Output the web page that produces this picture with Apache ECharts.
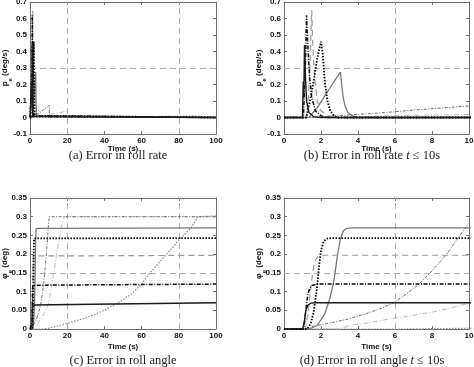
<!DOCTYPE html>
<html><head><meta charset="utf-8">
<script src="https://cdn.jsdelivr.net/npm/echarts@6/dist/echarts.min.js"></script>
<style>html,body{margin:0;padding:0;background:#fff}#c{width:474px;height:367px}</style>
</head><body><div id="c"></div>
<script>
// ---- Data: roll-rate error p_e (deg/s) vs time (s) ----
const rateC1 = [[0,0],[1.0,0],[1.04,0.22],[1.07,0.12],[1.11,0.44],[1.16,0.25],[1.22,0.1],[1.35,0.03],[1.6,0.005],[2,0],[100,0]];
const rateC2 = [[0,0],[1.05,0],[1.15,0.3],[1.22,0.62],[1.28,0.45],[1.38,0.25],[1.5,0.12],[1.7,0.04],[2.0,0.01],[2.4,0],[100,0]];
const rateC3 = [[0,0],[1.2,0],[1.4,0.1],[1.6,0.22],[1.8,0.36],[2.0,0.46],[2.1,0.38],[2.2,0.22],[2.35,0.1],[2.5,0.04],[2.7,0.01],[2.9,0],[100,0]];
const rateC4 = [[0,0],[1.25,0],[1.4,0.3],[1.5,0.65],[1.55,0.45],[1.65,0.25],[1.8,0.1],[2.0,0.04],[2.4,0.01],[2.8,0],[100,0]];
const rateC5 = [[0,0],[1.35,0],[1.8,0.06],[2.2,0.13],[2.6,0.2],[3.05,0.275],[3.12,0.2],[3.2,0.12],[3.3,0.07],[3.45,0.03],[3.7,0.01],[4,0],[100,0]];
const rateC6 = [[0,0],[1.6,0],[2.5,0.008],[3.5,0.015],[5,0.026],[6,0.035],[7,0.045],[8,0.053],[9,0.062],[10,0.07],[10.4,0.073],[10.45,0],[100,0]];
const rateC7 = [[0,0],[3.5,0],[5,0.008],[6,0.012],[8,0.015],[10,0.018],[12,0.022],[14,0.026],[16,0.03],[18,0.034],[19.4,0.037],[19.45,0],[100,0]];
const rateC8 = [[0,0],[6.5,0],[20,0.001],[40,0.003],[55,0.005],[70,0.006],[85,0.008],[90,0.008],[90.3,0],[100,0]];
// ---- Data: roll-angle error phi_e (deg) vs time (s) ----
const angC1 = [[0,0],[1.0,0],[1.05,0.008],[1.1,0.02],[1.15,0.04],[1.2,0.053],[1.3,0.064],[1.45,0.069],[1.7,0.07],[100,0.07]];
const angC2 = [[0,0],[1.05,0],[1.12,0.02],[1.2,0.06],[1.3,0.095],[1.4,0.11],[1.55,0.117],[1.8,0.12],[100,0.12]];
const angC3 = [[0,0],[1.25,0],[1.45,0.015],[1.6,0.045],[1.76,0.1],[1.9,0.17],[2.0,0.21],[2.15,0.235],[2.35,0.242],[2.6,0.243],[100,0.243]];
const angC4 = [[0,0],[1.15,0],[1.3,0.04],[1.4,0.09],[1.5,0.13],[1.6,0.165],[1.7,0.185],[1.85,0.195],[2.1,0.197],[100,0.197]];
const angC5 = [[0,0],[1.4,0],[1.8,0.01],[2.2,0.04],[2.5,0.085],[2.7,0.13],[2.9,0.2],[3.05,0.24],[3.2,0.262],[3.4,0.269],[3.7,0.27],[100,0.27]];
const angC6 = [[0,0],[1.3,0],[1.6,0.008],[2.5,0.016],[3.5,0.027],[4.5,0.042],[5.3,0.056],[5.9,0.07],[6.6,0.093],[7.3,0.12],[7.9,0.15],[8.8,0.2],[9.4,0.243],[10,0.283],[10.4,0.3],[100,0.3]];
const angC7 = [[0,0],[3,0],[3.6,0.01],[4.5,0.016],[5.5,0.025],[6.8,0.035],[8,0.045],[9,0.056],[10,0.069],[11.5,0.11],[13,0.16],[15,0.22],[17,0.275],[18.5,0.3],[100,0.3]];
const angC8 = [[0,0],[6.5,0],[10,0.002],[20,0.015],[30,0.03],[40,0.05],[48,0.072],[55,0.095],[60,0.12],[64.5,0.15],[73.5,0.2],[81,0.243],[86.6,0.27],[90.3,0.3],[100,0.302]];

const rateSets = [rateC1, rateC2, rateC3, rateC4, rateC5, rateC6, rateC7, rateC8];
const angSets  = [angC1, angC2, angC3, angC4, angC5, angC6, angC7, angC8];

const captions = ['(a) Error in roll rate', '(b) Error in roll rate {i|t} ≤ 10s', '(c) Error in roll angle', '(d) Error in roll angle {i|t} ≤ 10s'];

// ---- Styles ----
const styles = [
  {color:'#1a1a1a', type:'solid', width:1.4},
  {color:'#111', type:[4,1.5,1,1.5], width:1.5},
  {color:'#000', type:[1.5,1.5], width:1.8},
  {color:'#9a9a9a', type:[6,4], width:1.2},
  {color:'#777', type:'solid', width:1.3},
  {color:'#6e6e6e', type:[3,1.5,1,1.5], width:1},
  {color:'#bcbcbc', type:[5,2,1,2], width:1},
  {color:'#8a8a8a', type:[1.5,1.5], width:1.2}
];

const panels = [
  {left:30, top:2, width:186, height:132, xmax:100, xint:20, ymin:-0.1, ymax:0.7, yint:0.1, sets:rateSets, vgrid:[20,80], hgrid:[0.3], ngap:11, yname:'{a|p}{s|e}{a| (deg/s)}'},
  {left:284, top:2, width:185, height:132, xmax:10, xint:2, ymin:-0.1, ymax:0.7, yint:0.1, sets:rateSets, vgrid:[6], hgrid:[0.3], ngap:11, yname:'{a|p}{s|e}{a| (deg/s)}'},
  {left:30, top:198, width:186, height:131, xmax:100, xint:20, ymin:0, ymax:0.35, yint:0.05, sets:angSets, vgrid:[20,80], hgrid:[0.15], ngap:14, yname:'{a|φ}{s|e}{a| (deg)}'},
  {left:284, top:198, width:185, height:131, xmax:10, xint:2, ymin:0, ymax:0.35, yint:0.05, sets:angSets, vgrid:[6], hgrid:[0.15], ngap:14, yname:'{a|φ}{s|e}{a| (deg)}'}
];
const capPos = [[118,149],[372,149],[123,354],[372,354]];

const axisColor = '#707070';
const lblStyle = {fontSize:8, fontWeight:'bold', color:'#111', fontFamily:'Liberation Sans, Arial, sans-serif'};
const grid = [], xAxis = [], yAxis = [], series = [], graphic = [];

panels.forEach((p, i) => {
  grid.push({left:p.left, top:p.top, width:p.width, height:p.height, containLabel:false, outerBoundsMode:'none'});
  const common = {gridIndex:i, type:'value', axisLine:{show:true, onZero:false, lineStyle:{color:axisColor, width:1}},
    axisTick:{show:true, inside:true, length:3, lineStyle:{color:axisColor}}, splitLine:{show:false}};
  xAxis.push(Object.assign({}, common, {position:'bottom', min:0, max:p.xmax, interval:p.xint,
    axisLabel:Object.assign({margin:3}, lblStyle),
    name:'Time (s)', nameLocation:'middle', nameGap:p.ngap, nameMoveOverlap:false, nameTextStyle:lblStyle}));
  xAxis.push(Object.assign({}, common, {position:'top', min:0, max:p.xmax, interval:p.xint, axisLabel:{show:false}}));
  yAxis.push(Object.assign({}, common, {position:'left', min:p.ymin, max:p.ymax, interval:p.yint,
    axisLabel:Object.assign({margin:3, formatter:v => String(+v.toFixed(2))}, lblStyle),
    name:p.yname, nameLocation:'middle', nameGap:21, nameMoveOverlap:false,
    nameTextStyle:{rich:{a:{fontSize:8, fontWeight:'bold', color:'#111', fontFamily:'Liberation Sans, Arial, sans-serif'},
                         s:{fontSize:6, fontWeight:'bold', color:'#111', verticalAlign:'bottom', padding:[0,0,-4,0], fontFamily:'Liberation Sans, Arial, sans-serif'}}}}));
  yAxis.push(Object.assign({}, common, {position:'right', min:p.ymin, max:p.ymax, interval:p.yint, axisLabel:{show:false}}));

  // dashed grid lines
  const ml = p.vgrid.map(v => ({xAxis:v}));
  p.hgrid.forEach(v => ml.push({yAxis:v}));
  series.push({type:'line', xAxisIndex:2*i, yAxisIndex:2*i, data:[[0,null]], silent:true, showSymbol:false, z:1,
    markLine:{symbol:'none', silent:true, label:{show:false}, animation:false,
      lineStyle:{color:'#b0b0b0', type:[6,4], width:1}, data:ml}});

  p.sets.forEach((d, k) => {
    const s = styles[k];
    series.push({type:'line', xAxisIndex:2*i, yAxisIndex:2*i, data:d, showSymbol:false, symbol:'none',
      smooth:false, clip:true, animation:false, z:10-k,
      lineStyle:{color:s.color, type:s.type, width:s.width}});
  });

  graphic.push({type:'text', x:capPos[i][0], y:capPos[i][1], style:{text:captions[i], align:'center', textAlign:'center',
    fill:'#222', font:'12.5px "Liberation Serif", "DejaVu Serif", serif',
    rich:{i:{fontStyle:'italic', fontSize:12.5, fontFamily:'Liberation Serif'}}}});
});

const chart = echarts.init(document.getElementById('c'), null, {renderer:'canvas'});
chart.setOption({animation:false, grid, xAxis, yAxis, series, graphic});
</script></body></html>
